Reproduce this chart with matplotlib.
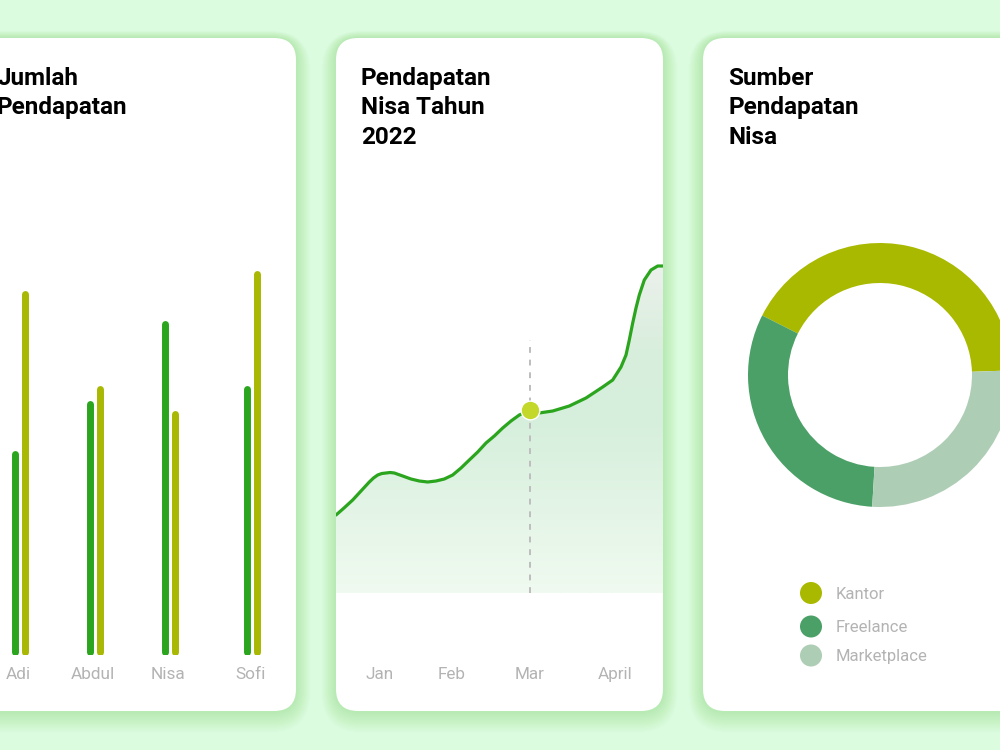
import numpy as np
import matplotlib
matplotlib.use('Agg')
import matplotlib.pyplot as plt
from matplotlib.patches import FancyBboxPatch, Circle
from matplotlib.colors import LinearSegmentedColormap

plt.rcParams['font.family'] = ['Roboto', 'DejaVu Sans']

# --- data ---
names = ['Adi', 'Abdul', 'Nisa', 'Sofi']
income_green = [4.1, 5.1, 6.7, 5.4]
income_olive = [7.3, 5.4, 4.9, 7.7]

# Nisa's income through the year (t = position along the month axis)
t = [0, 8, 16.7, 25, 33.3, 37.5, 41.7, 45.8, 50, 54.2, 58.3, 62.5, 66.7,
     70.8, 75, 83.3, 91.7, 100, 108.3, 116.7, 125, 133.3, 141.7, 150, 158.3,
     166.7, 175, 183.3, 194, 203, 216.7, 233.3, 250, 266.7, 276.7, 285, 290,
     293.3, 296.7, 300, 303.3, 308.3, 315, 321.7, 327]
nisa = [7.8, 8.5, 9.3, 10.2, 11.1, 11.5, 11.8, 11.95, 12.0, 12.05, 12.0,
        11.85, 11.7, 11.55, 11.4, 11.2, 11.1, 11.2, 11.4, 11.8, 12.5, 13.3,
        14.1, 15.0, 15.7, 16.5, 17.2, 17.8, 18.3, 18.0, 18.2, 18.7, 19.5,
        20.6, 21.3, 22.6, 23.8, 25.3, 27.0, 28.5, 29.8, 31.3, 32.3, 32.7,
        32.7]
months = ['Jan', 'Feb', 'Mar', 'April']
month_t = [44, 116, 194, 279]
mark_t, mark_v = 194, 18.3

sources = ['Kantor', 'Freelance', 'Marketplace']
shares = [42, 31.5, 26.5]

# --- style ---
W, H = 1000, 750
BG = '#dcfce0'
GREEN = '#2ba51e'
OLIVE = '#a8b803'
pie_colors = ['#a9b900', '#4aa066', '#aecdb5']
GREY = '#b3b3b3'

fig = plt.figure(figsize=(10, 7.5), dpi=100, facecolor=BG)


def px_axes(x0, y0, x1, y1):
    return fig.add_axes([x0 / W, 1 - y1 / H, (x1 - x0) / W, (y1 - y0) / H])


# background + cards in pixel coordinates
bg = fig.add_axes([0, 0, 1, 1])
bg.set_xlim(0, W)
bg.set_ylim(H, 0)
bg.axis('off')

cards = [(-31, 296), (336, 663), (703, 1030)]
top, bottom = 38, 711
for x0, x1 in cards:
    for k in range(18, 0, -1):
        glow = FancyBboxPatch((x0 - k * 0.8, top - k * 0.4), x1 - x0 + k * 1.6,
                              bottom - top + k * 1.6,
                              boxstyle='round,pad=0,rounding_size=%d' % (22 + k),
                              fc='#9be88a', ec='none', alpha=0.032)
        bg.add_patch(glow)
    bg.add_patch(FancyBboxPatch((x0, top), x1 - x0, bottom - top,
                                boxstyle='round,pad=0,rounding_size=22',
                                fc='white', ec='none'))

titles = [(-3, ['Jumlah', 'Pendapatan']),
          (361, ['Pendapatan', 'Nisa Tahun', '2022']),
          (728, ['Sumber', 'Pendapatan', 'Nisa'])]
for x, lines in titles:
    for i, line in enumerate(lines):
        bg.text(x, 85 + i * 29.3, line, fontsize=17.5, fontweight='bold',
                color='black', va='baseline', ha='left')

# --- bar chart ---
ax1 = px_axes(0, 155, 300, 655)
gpos = np.array([0, 1, 2, 3.1])
off = 5 / 75
cap = 3.5 / 50
ax1.vlines(gpos - off, cap, np.array(income_green) - cap, colors=GREEN,
           linewidth=5.0, capstyle='round')
ax1.vlines(gpos + off, cap, np.array(income_olive) - cap, colors=OLIVE,
           linewidth=5.0, capstyle='round')
for x, n in zip(gpos, names):
    ax1.text(x - 0.02, -0.48, n, ha='center', va='baseline', fontsize=12.4,
             color=GREY, clip_on=False)
ax1.set_xlim(-19.7 / 75, (300 - 19.7) / 75)
ax1.set_ylim(0, 10)
ax1.axis('off')

# --- line chart ---
ax2 = px_axes(336, 250, 663, 593)
poly = ax2.fill_between(t, nisa, 0, color='none')
cmap = LinearSegmentedColormap.from_list(
    'fill', [(0, '#f0faf0'), (0.5, '#d6efdc'), (0.7, '#d8eedc'), (1, '#eff1ef')])
grad = np.linspace(0, 1, 256).reshape(-1, 1)
im = ax2.imshow(grad, extent=[0, 327, 0, 34.3], origin='lower', aspect='auto',
                cmap=cmap, zorder=1)
im.set_clip_path(poly.get_paths()[0], transform=ax2.transData)
ax2.plot([mark_t, mark_t], [0, 25.3], color='#bdbdbd', lw=1.4,
         dashes=(3, 3.5), zorder=2)
ax2.plot(t, nisa, color=GREEN, lw=2.3, zorder=3, solid_capstyle='round',
         solid_joinstyle='round')
ax2.plot(mark_t, mark_v, 'o', ms=13.5, mfc='#c3d82b', mec='white', mew=1,
         zorder=4)
for x, m in zip(month_t, months):
    ax2.text(x, -8.6, m, ha='center', va='baseline', fontsize=12.3,
             color=GREY, clip_on=False)
ax2.set_xlim(0, 327)
ax2.set_ylim(0, 34.3)
ax2.axis('off')

# --- donut ---
ax3 = px_axes(730, 225, 1030, 525)
ax3.pie(shares, colors=pie_colors, startangle=2, counterclock=True,
        radius=132 / 150, wedgeprops=dict(width=40 / 150, edgecolor='none'))
ax3.set_xlim(-1, 1)
ax3.set_ylim(-1, 1)
ax3.set_aspect('equal')
ax3.axis('off')

for i, (s, c) in enumerate(zip(sources, pie_colors)):
    y = [593, 626.5, 655.5][i]
    bg.add_patch(Circle((811, y), 11, fc=c, ec='none', zorder=5))
    bg.text(836, y + 5.8, s, fontsize=12, color=GREY, va='baseline',
            ha='left', zorder=5)

fig.savefig('out.png', dpi=100, facecolor=BG)
